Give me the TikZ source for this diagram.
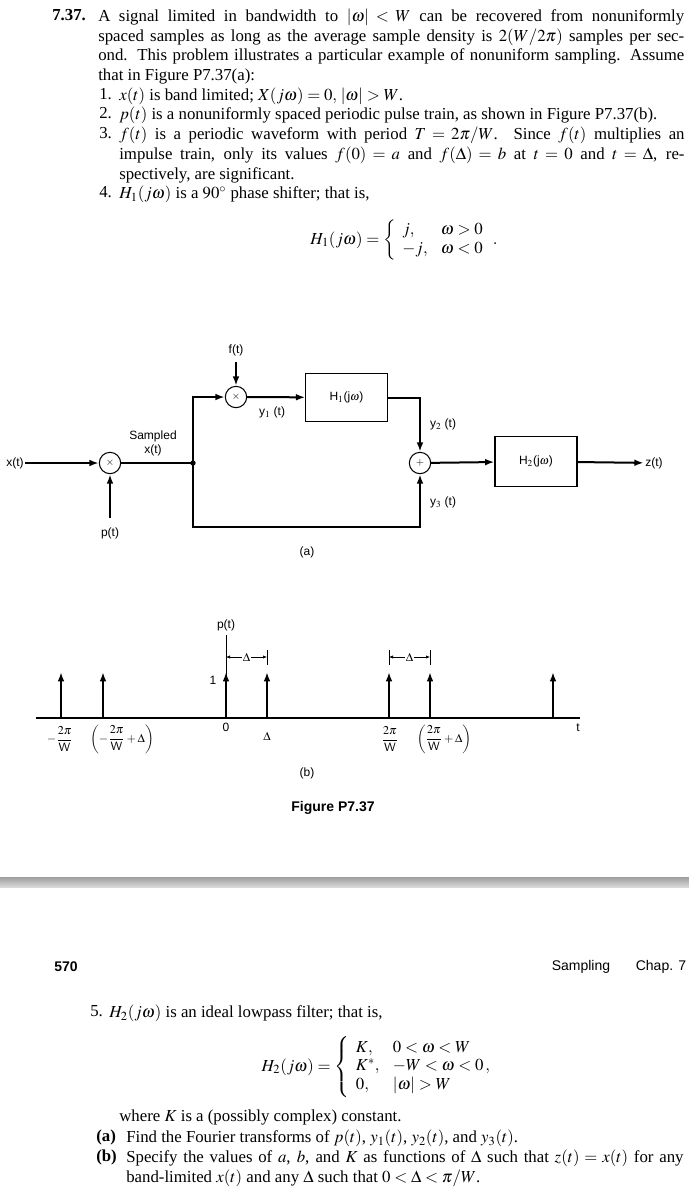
\documentclass[tikz,border=0pt]{standalone}
\usepackage{mathptmx}
\usepackage[no-math]{fontspec}
\setmainfont{Liberation Serif}
\setsansfont{Liberation Sans}
\usetikzlibrary{arrows.meta}
\begin{document}
\begin{tikzpicture}[x=0.75pt,y=-0.75pt,
  txt/.style={anchor=north west,inner sep=0pt,text width=439.5pt,align=justify,font=\fontsize{12.6}{14.7}\selectfont},
  itm/.style={anchor=north west,inner sep=0pt,text width=424pt,align=justify,font=\fontsize{12.6}{14.7}\selectfont},
  one/.style={anchor=north west,inner sep=0pt,font=\fontsize{12.6}{14.7}\selectfont},
  lab/.style={inner sep=1pt,font=\sffamily\fontsize{9}{10.5}\selectfont},
  mult/.style={circle,draw,line width=0.8pt,minimum size=16pt,inner sep=0pt,font=\sffamily\fontsize{8}{9}\selectfont},
  blk/.style={draw,line width=0.8pt,inner sep=0pt,font=\sffamily\fontsize{9}{10.5}\selectfont},
  sig/.style={line width=1.5pt,-{Latex[length=7pt,width=5pt]}},
  wire/.style={line width=1.5pt},
  imp/.style={line width=1.6pt,-{Latex[length=7pt,width=5pt]}},
  dim/.style={line width=0.5pt,-{Latex[length=3pt,width=2.5pt]}}]
\useasboundingbox (0,0) rectangle (689,1193);
\fill[white] (0,0) rectangle (689,1193);

% ---------- text top ----------
\node[anchor=north west,inner sep=0pt,font=\fontsize{12.6}{14.7}\selectfont\bfseries] (num) at (52,9) {7.37.};
\node[txt] (p1) at (98,9) {A signal limited in bandwidth to $|\omega|<W$ can be recovered from nonuniformly\linebreak spaced samples as long as the average sample density is $2(W/2\pi)$ samples per sec-\linebreak ond. This problem illustrates a particular example of nonuniform sampling. Assume\linebreak that in Figure P7.37(a):};
\node[one] (n1) at (99,88) {1.};
\node[itm] (i1) at (119,88) {$x(t)$ is band limited; $X(j\omega)=0,\,|\omega|>W$.};
\node[one] (n2) at (99,107) {2.};
\node[itm] (i2) at (119,107) {$p(t)$ is a nonuniformly spaced periodic pulse train, as shown in Figure P7.37(b).};
\node[one] (n3) at (99,127) {3.};
\node[itm] (i3) at (119,127) {$f(t)$ is a periodic waveform with period $T=2\pi/W$. Since $f(t)$ multiplies an\linebreak impulse train, only its values $f(0)=a$ and $f(\Delta)=b$ at $t=0$ and $t=\Delta$, re-\linebreak spectively, are significant.};
\node[one] (n4) at (99,186) {4.};
\node[itm] (i4) at (119,186) {$H_1(j\omega)$ is a $90^\circ$ phase shifter; that is,};
\node[inner sep=0pt,font=\fontsize{12.6}{14}\selectfont] (eq1) at (404,240) {$H_1(j\omega)=\left\{\begin{array}{ll} j, & \omega>0\\ -j, & \omega<0\end{array}\right..$};

% ---------- diagram (a) ----------
\node[lab] (ft) at (236,350) {f(t)};
\node[mult] (m2) at (236,397) {$\times$};
\node[mult] (m1) at (110,463) {$\times$};
\node[mult] (add) at (420,463) {$+$};
\node[blk,minimum width=61pt,minimum height=36pt] (h1) at (346.5,397.5) {H$_1$(j$\omega$)};
\node[blk,minimum width=61.5pt,minimum height=37pt] (h2) at (536,461.5) {H$_2$(j$\omega$)};
\node[lab] (xt) at (15,463) {x(t)};
\node[lab] (pt) at (110,533) {p(t)};
\node[lab] (zt) at (654,463) {z(t)};
\node[lab,align=center] (samp) at (153,443) {Sampled\\x(t)};
\node[lab] (y1) at (272,412) {y$_1$ (t)};
\node[lab] (y2) at (443,424) {y$_2$ (t)};
\node[lab] (y3) at (443,502) {y$_3$ (t)};
\node[lab] (la) at (307,552) {(a)};
\coordinate (jn) at (193,463);
\coordinate (ptb) at (110,518);
\coordinate (ftt) at (236,362);
\fill (jn) circle (2pt);
\draw[sig] (xt) -- (m1);
\draw[sig] (ptb) -- (m1);
\draw[wire] (m1) -- (jn);
\draw[sig] (jn) |- (m2);
\draw[sig] (ftt) -- (m2);
\draw[sig] (m2) -- (h1);
\draw[sig] (h1.east) -| (add);
\draw[sig] (jn) -- (193,527) -| (add);
\draw[sig] (add) -- (h2);
\draw[sig] (h2) -- (zt);

% ---------- diagram (b) ----------
\coordinate (ax0) at (36,718);
\coordinate (ax1) at (580,718);
\draw[line width=1pt] (ax0) -- (ax1);
\draw[line width=0.7pt] (226,635) -- (226,718);
\node[lab] (pp) at (226,625) {p(t)};
\foreach \x/\n in {61/a,103/b,226/c,267/d,389/e,430/f,553/g}{
  \coordinate (b\n) at (\x,718);
  \coordinate (t\n) at (\x,672);
  \draw[imp] (b\n) -- (t\n);
}
\node[lab] (one) at (213,680) {1};
\node[lab] (tl) at (578,728) {t};
\node[lab] (zero) at (226,727) {0};
\node[lab] (dl) at (267,736) {$\Delta$};
\node[lab] (l1) at (60,739) {$\displaystyle-\frac{2\pi}{\mathsf W}$};
\node[lab] (l2) at (122,739) {$\displaystyle\left(-\frac{2\pi}{\mathsf W}+\Delta\right)$};
\node[lab] (l3) at (390,739) {$\displaystyle\frac{2\pi}{\mathsf W}$};
\node[lab] (l4) at (444,739) {$\displaystyle\left(\frac{2\pi}{\mathsf W}+\Delta\right)$};
% dimension marks
\draw[line width=0.5pt] (267,650) -- (267,665);
\node[lab,fill=white,inner sep=0.5pt] (d1) at (246.5,657) {$\Delta$};
\draw[dim] (d1) -- (226,657);
\draw[dim] (d1) -- (267,657);
\draw[line width=0.5pt] (389,650) -- (389,665);
\draw[line width=0.5pt] (430,650) -- (430,665);
\node[lab,fill=white,inner sep=0.5pt] (d2) at (409.5,657) {$\Delta$};
\draw[dim] (d2) -- (389,657);
\draw[dim] (d2) -- (430,657);
\node[lab] (lb) at (307,773) {(b)};
\node[inner sep=0pt,font=\sffamily\bfseries\fontsize{10.5}{12}\selectfont] (fig) at (333,808) {Figure P7.37};

% ---------- page break ----------
\shade[top color=black!38,bottom color=black!15] (0,877) rectangle (689,887);
\node[inner sep=0pt,font=\sffamily\bfseries\fontsize{10.5}{12}\selectfont] (pg) at (66,967) {570};
\node[inner sep=0pt,font=\sffamily\fontsize{10.5}{12}\selectfont] (sm) at (581,967) {Sampling};
\node[inner sep=0pt,font=\sffamily\fontsize{10.5}{12}\selectfont] (ch) at (661,967) {Chap. 7};

% ---------- text bottom ----------
\node[one] (n5) at (90,1005) {5.};
\node[one] (i5) at (109,1005) {$H_2(j\omega)$ is an ideal lowpass filter; that is,};
\node[inner sep=0pt,font=\fontsize{12.6}{14}\selectfont] (eq2) at (380,1067) {$H_2(j\omega)=\left\{\begin{array}{ll} K, & 0<\omega<W\\ K^{*}, & -W<\omega<0\,,\\ 0, & |\omega|>W\end{array}\right.$};
\node[one] (wh) at (119,1110) {where $K$ is a (possibly complex) constant.};
\node[one] (na) at (96,1130) {\textbf{(a)}};
\node[itm] (qa) at (126,1130) {Find the Fourier transforms of $p(t)$, $y_1(t)$, $y_2(t)$, and $y_3(t)$.};
\node[one] (nb) at (96,1150) {\textbf{(b)}};
\node[itm,text width=418pt] (qb) at (126,1150) {Specify the values of $a$, $b$, and $K$ as functions of $\Delta$ such that $z(t)=x(t)$ for any\linebreak band-limited $x(t)$ and any $\Delta$ such that $0<\Delta<\pi/W$.};
\end{tikzpicture}
\end{document}
